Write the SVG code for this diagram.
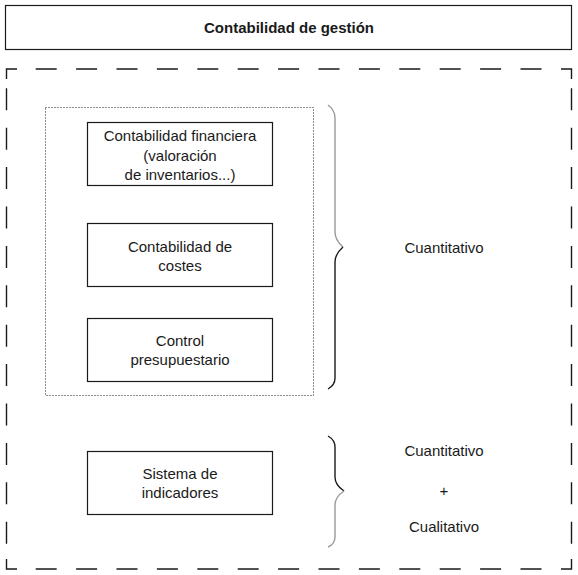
<svg xmlns="http://www.w3.org/2000/svg" width="578" height="575" viewBox="0 0 578 575">
<style>
text{font-family:"Liberation Sans",Arial,sans-serif;font-size:15px;fill:#1a1a1a;text-anchor:middle}
.title{font-weight:bold}
.box{fill:#fff;stroke:#1a1a1a;stroke-width:1.2}
.dash{fill:none;stroke:#1a1a1a;stroke-width:1.4}
.dot{fill:none;stroke:#1a1a1a;stroke-width:1;stroke-dasharray:1 2}
.br{fill:none;stroke-width:1.4}
</style>
<rect width="578" height="575" fill="#fff"/>
<g id="title">
<rect class="box" x="5.5" y="5.5" width="566" height="44"/>
<text class="title" x="289" y="33">Contabilidad de gestión</text>
</g>
<g id="outer">
<path class="dash" d="M6.5,79 V69 H17 M561,69 H571.5 V79 M6.5,559 V569 H17 M561,569 H571.5 V559"/>
<line class="dash" x1="35.7" y1="69" x2="541.7" y2="69" stroke-dasharray="21 19.4"/>
<line class="dash" x1="35.7" y1="569" x2="541.7" y2="569" stroke-dasharray="21 19.4"/>
<line class="dash" x1="6.5" y1="88.3" x2="6.5" y2="544" stroke-dasharray="22 17.4"/>
<line class="dash" x1="571.5" y1="88.3" x2="571.5" y2="544" stroke-dasharray="22 17.4"/>
</g>
<g id="group">
<rect class="dot" x="45.5" y="107.5" width="268" height="288"/>
</g>
<g id="n1">
<rect class="box" x="87.5" y="122.5" width="185" height="63"/>
<text x="180" y="141">Contabilidad financiera</text>
<text x="180" y="160.5">(valoración</text>
<text x="180" y="180">de inventarios...)</text>
</g>
<g id="n2">
<rect class="box" x="87.5" y="223.5" width="185" height="63"/>
<text x="180" y="252">Contabilidad de</text>
<text x="180" y="271">costes</text>
</g>
<g id="n3">
<rect class="box" x="87.5" y="318.5" width="185" height="63"/>
<text x="180" y="346">Control</text>
<text x="180" y="365">presupuestario</text>
</g>
<g id="n4">
<rect class="box" x="87.5" y="451.5" width="185" height="63"/>
<text x="180" y="479">Sistema de</text>
<text x="180" y="498">indicadores</text>
</g>
<g id="connectors">
<path class="br" stroke="#9a9a9a" d="M328,105 Q335,110 335,118 V232 Q335,240 343,247"/>
<path class="br" stroke="#1a1a1a" d="M343,247 Q335,254 335,262 V378 Q335,385 328,389"/>
<path class="br" stroke="#1a1a1a" d="M328,436 Q335,440 335,447 V477 Q335,485 344,491"/>
<path class="br" stroke="#9a9a9a" d="M344,491 Q335,497 335,505 V537 Q335,544 328,547"/>
</g>
<g id="labels">
<text x="444" y="253">Cuantitativo</text>
<text x="444" y="456">Cuantitativo</text>
<text x="444" y="496">+</text>
<text x="444" y="532">Cualitativo</text>
</g>
</svg>
